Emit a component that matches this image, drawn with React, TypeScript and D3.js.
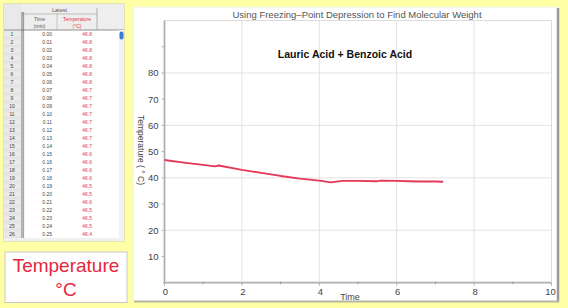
import React from "react";
import * as d3 from "d3";

const times = [0, 0.5, 1, 1.3, 1.4, 2, 2.5, 3, 3.5, 4, 4.3, 4.6, 5, 5.5, 5.6, 6, 6.3, 6.6, 7, 7.2];
const temps = [46.8, 45.8, 44.9, 44.4, 44.7, 43.0, 41.9, 40.7, 39.7, 38.9, 38.3, 38.8, 38.8, 38.7, 38.9, 38.8, 38.7, 38.6, 38.6, 38.5];

const xTicks = [0, 2, 4, 6, 8, 10];
const xMinorTicks = [1, 3, 5, 7, 9];
const yTickLabels = [10, 20, 30, 40, 50, 60, 70, 80];
const yTickMarks = [10, 20, 30, 40, 50, 60, 70, 80, 90];
const yGrid = [20, 40, 60, 80];
const xGrid = [2, 4, 6, 8];

const tableTimes = ["0.00", "0.01", "0.02", "0.03", "0.04", "0.05", "0.06", "0.07", "0.08", "0.09", "0.10", "0.11", "0.12", "0.13", "0.14", "0.15", "0.16", "0.17", "0.18", "0.19", "0.20", "0.21", "0.22", "0.23", "0.24", "0.25"];
const tableTemps = ["46.8", "46.8", "46.8", "46.8", "46.8", "46.8", "46.8", "46.7", "46.7", "46.7", "46.7", "46.7", "46.7", "46.7", "46.7", "46.6", "46.6", "46.6", "46.6", "46.5", "46.5", "46.6", "46.5", "46.5", "46.5", "46.4"];

const TITLE = "Using Freezing\u2013Point Depression to Find Molecular Weight";
const ANNOT = "Lauric Acid + Benzoic Acid";

export default function App() {
  const W = 568, H = 308;
  const x = d3.scaleLinear().domain([0, 10]).range([164.5, 551.5]);
  const y = d3.scaleLinear().domain([0, 100]).range([282.7, 20.5]);
  const line = d3.line<number>().x((_, i) => x(times[i])).y((d) => y(d));
  const font = "'Liberation Sans', Arial, sans-serif";

  // table geometry
  const tX0 = 4, tX1 = 124, colNum = 22, colTime = 57, colTemp = 97;
  const rowTop = 30, rowH = 8;
  const tTop = 4, tBottom = rowTop + rowH * tableTimes.length + 3;
  const rowScale = d3.scaleBand<number>().domain(d3.range(tableTimes.length)).range([rowTop, rowTop + rowH * tableTimes.length]);

  return (
    <svg width={W} height={H} style={{ position: "absolute", left: 0, top: 0 }} fontFamily={font}>
      <rect x={0} y={0} width={W} height={H} fill="#ffffa6" />

      {/* table */}
      <g>
        <rect x={tX0} y={tTop} width={tX1 - tX0} height={tBottom - tTop} fill="#ffffff" stroke="#b8b8b8" strokeWidth={0.8} />
        <rect x={tX0} y={tTop} width={tX1 - tX0} height={rowTop - tTop} fill="#eeeeee" />
        <rect x={tX0} y={tTop} width={colNum - tX0} height={tBottom - tTop} fill="#e9e9e9" />
        <line x1={colNum} x2={colTemp} y1={14} y2={14} stroke="#9a9a9a" strokeWidth={0.6} />
        <line x1={tX0} x2={tX1} y1={rowTop} y2={rowTop} stroke="#777" strokeWidth={0.8} />
        <line x1={colNum} x2={colNum} y1={tTop + 8} y2={tBottom} stroke="#555" strokeWidth={0.8} />
        <line x1={colNum + 1.6} x2={colNum + 1.6} y1={tTop + 8} y2={tBottom} stroke="#555" strokeWidth={0.6} />
        <line x1={colTime} x2={colTime} y1={14} y2={rowTop} stroke="#aaa" strokeWidth={0.6} />
        <line x1={colTemp} x2={colTemp} y1={tTop + 4} y2={rowTop} stroke="#888" strokeWidth={0.6} />
        <text x={(colNum + colTemp) / 2} y={11.5} fontSize={5.5} fill="#555" textAnchor="middle">Latest</text>
        <text x={(colNum + colTime) / 2} y={20.5} fontSize={5} fill="#555" textAnchor="middle">Time</text>
        <text x={(colNum + colTime) / 2} y={27.5} fontSize={5} fill="#555" textAnchor="middle">(min)</text>
        <text x={(colTime + colTemp) / 2} y={20.5} fontSize={5} fill="#e8334a" textAnchor="middle">Temperature</text>
        <text x={(colTime + colTemp) / 2} y={27.5} fontSize={5} fill="#e8334a" textAnchor="middle">(°C)</text>
        {tableTimes.map((t, i) => {
          const cy = (rowScale(i) ?? 0) + rowH / 2;
          return (
            <g key={i}>
              <line x1={tX0} x2={colNum} y1={(rowScale(i) ?? 0) + rowH} y2={(rowScale(i) ?? 0) + rowH} stroke="#cfcfcf" strokeWidth={0.5} />
              <text x={12} y={cy + 1.8} fontSize={5} fill="#444" textAnchor="middle">{i + 1}</text>
              <text x={52} y={cy + 1.8} fontSize={5} fill="#444" textAnchor="end">{t}</text>
              <text x={92} y={cy + 1.8} fontSize={5} fill="#e8334a" textAnchor="end">{tableTemps[i]}</text>
            </g>
          );
        })}
        <rect x={119} y={rowTop} width={5} height={tBottom - rowTop} fill="#f2f2f2" />
        <rect x={119.5} y={31.5} width={4} height={8} rx={2} fill="#3a7bd5" />
        <rect x={4} y={tBottom - 3} width={115} height={3} fill="#f0f0f0" />
      </g>

      {/* temperature box */}
      <rect x={5} y={252} width={122} height={50.5} fill="#ffffff" stroke="#c8c8c8" strokeWidth={1} />
      <text x={66} y={272} fontSize={19} fill="#e8263c" textAnchor="middle">Temperature</text>
      <text x={66} y={296} fontSize={19} fill="#e8263c" textAnchor="middle">°C</text>

      {/* chart panel */}
      <rect x={133} y={7} width={425} height={294.5} fill="#ffffff" stroke="#e6e6e6" strokeWidth={0.6} />
      <line x1={558} x2={558} y1={8} y2={302} stroke="#9a9a9a" strokeWidth={2.5} />
      <line x1={134} x2={559} y1={301.5} y2={301.5} stroke="#b5b5a0" strokeWidth={2} />

      <text x={357} y={17.5} fontSize={9.5} fill="#555" textAnchor="middle">{TITLE}</text>

      {/* grid */}
      {xGrid.map((v) => (
        <line key={"xg" + v} x1={x(v)} x2={x(v)} y1={y(100)} y2={y(0)} stroke="#e2e2e2" strokeWidth={1} />
      ))}
      {yGrid.map((v) => (
        <line key={"yg" + v} x1={x(0)} x2={x(10)} y1={y(v)} y2={y(v)} stroke="#e2e2e2" strokeWidth={1} />
      ))}
      <line x1={x(0)} x2={x(10)} y1={y(100)} y2={y(100)} stroke="#dcdcdc" strokeWidth={1} />
      <line x1={x(10)} x2={x(10)} y1={y(100)} y2={y(0)} stroke="#dcdcdc" strokeWidth={1} />

      {/* axes */}
      <line x1={x(0)} x2={x(0)} y1={y(100)} y2={y(0) + 1} stroke="#b0b0b0" strokeWidth={1.8} />
      <line x1={x(0) - 1} x2={x(10)} y1={y(0)} y2={y(0)} stroke="#b0b0b0" strokeWidth={1.8} />
      {yTickMarks.map((v) => (
        <line key={"yt" + v} x1={x(0) - 3} x2={x(0)} y1={y(v)} y2={y(v)} stroke="#b0b0b0" strokeWidth={1} />
      ))}
      {yTickLabels.map((v) => (
        <text key={"yl" + v} x={x(0) - 6} y={y(v) + 3.5} fontSize={9.5} fill="#444" textAnchor="end">{v}</text>
      ))}
      {xMinorTicks.map((v) => (
        <line key={"xm" + v} x1={x(v)} x2={x(v)} y1={y(0) - 1} y2={y(0) + 1.5} stroke="#999" strokeWidth={1} />
      ))}
      {xTicks.map((v) => (
        <g key={"xt" + v}>
          <line x1={x(v)} x2={x(v)} y1={y(0)} y2={y(0) + 3} stroke="#b0b0b0" strokeWidth={1} />
          <text x={v === 10 ? x(v) - 1 : x(v) + 1} y={y(0) + 12} fontSize={9.5} fill="#444" textAnchor="middle">{v}</text>
        </g>
      ))}

      <text x={350} y={300} fontSize={9} fill="#444" textAnchor="middle">Time</text>
      <text transform={`translate(137.5,150) rotate(90)`} fontSize={8.5} fill="#444" textAnchor="middle">Temperature ( ° C)</text>

      <text x={345} y={58} fontSize={10.5} fontWeight="bold" fill="#111" textAnchor="middle">{ANNOT}</text>

      {/* series */}
      <path d={line(temps) ?? ""} fill="none" stroke="#e5375a" strokeWidth={1.8} strokeLinejoin="round" />
    </svg>
  );
}
